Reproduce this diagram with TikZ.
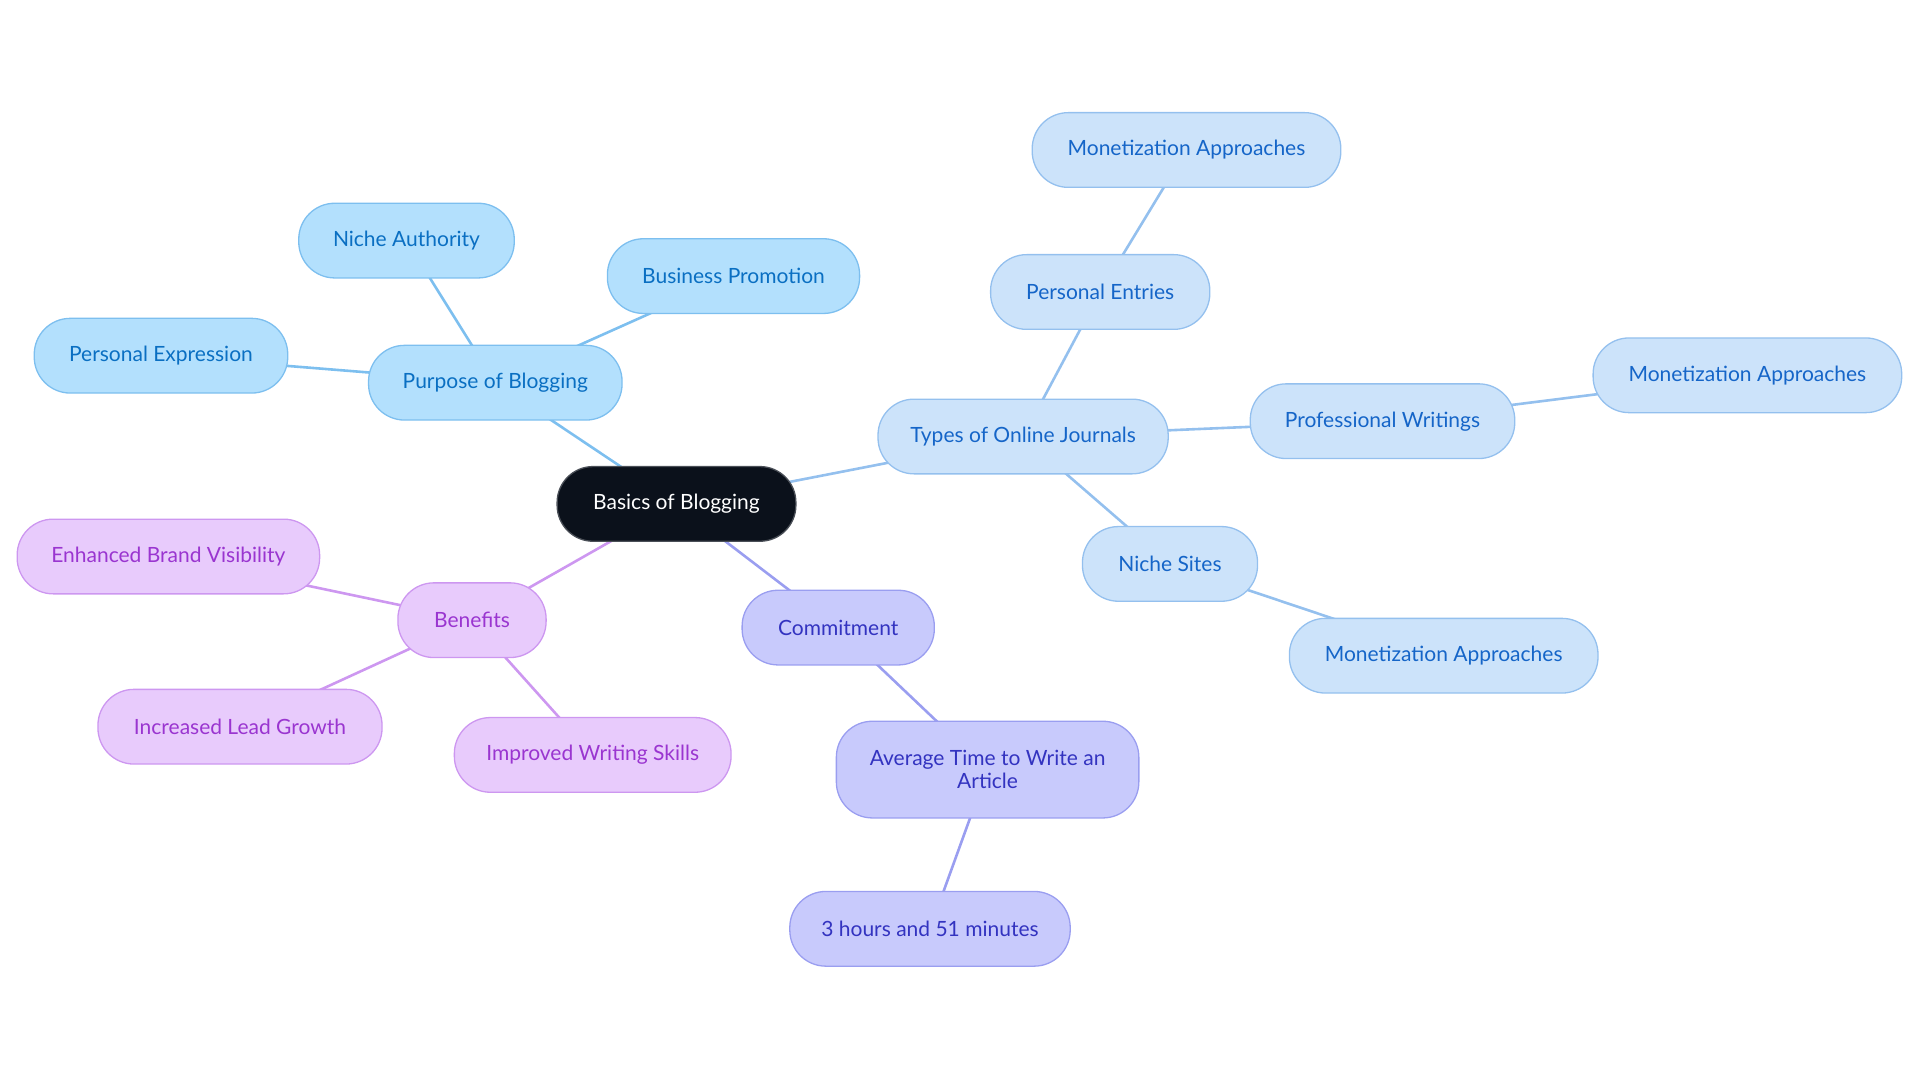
\documentclass[tikz,border=0pt]{standalone}
\usepackage{fontspec}
\setmainfont{Lato}
\usetikzlibrary{backgrounds}
\definecolor{rootfill}{HTML}{0B111B}
\definecolor{rootdraw}{HTML}{4A4F57}
\definecolor{afill}{HTML}{B3E0FD}
\definecolor{adraw}{HTML}{7DBFEF}
\definecolor{atext}{HTML}{0A6FC2}
\definecolor{bfill}{HTML}{CCE3FA}
\definecolor{bdraw}{HTML}{94C0EE}
\definecolor{btext}{HTML}{1565C8}
\definecolor{cfill}{HTML}{C8CAFC}
\definecolor{cdraw}{HTML}{9A9EF0}
\definecolor{ctext}{HTML}{3333C0}
\definecolor{dfill}{HTML}{E8CBFC}
\definecolor{ddraw}{HTML}{CD97F0}
\definecolor{dtext}{HTML}{9A35D0}
\tikzset{
  base/.style={rounded corners=36pt, minimum height=74.7pt, inner sep=0pt, line width=1.3pt, align=center, font=\fontsize{21}{22.5}\selectfont},
  rootbox/.style={base, fill=rootfill, draw=rootdraw, text=white},
  abox/.style={base, fill=afill, draw=adraw, text=atext},
  bbox/.style={base, fill=bfill, draw=bdraw, text=btext},
  cbox/.style={base, fill=cfill, draw=cdraw, text=ctext},
  dbox/.style={base, fill=dfill, draw=ddraw, text=dtext},
  aedge/.style={draw=adraw, line width=2.6pt},
  bedge/.style={draw=bdraw, line width=2.6pt},
  cedge/.style={draw=cdraw, line width=2.6pt},
  dedge/.style={draw=ddraw, line width=2.6pt},
}
\begin{document}
\begin{tikzpicture}[x=1pt, y=-1pt]
\useasboundingbox (0,0) rectangle (1920,1083);
\node[rootbox, minimum width=238.8pt] (root) at (676.5,503.9) {Basics of Blogging};
\node[abox, minimum width=253.5pt] (purpose) at (495.3,382.7) {Purpose of Blogging};
\node[abox, minimum width=215.5pt] (nauth) at (406.5,240.6) {Niche Authority};
\node[abox, minimum width=252.2pt] (bprom) at (733.5,276.1) {Business Promotion};
\node[abox, minimum width=253.5pt] (pexp) at (161,355.7) {Personal Expression};
\node[bbox, minimum width=290.2pt] (types) at (1023.1,436.5) {Types of Online Journals};
\node[bbox, minimum width=219.2pt] (pent) at (1100.2,292) {Personal Entries};
\node[bbox, minimum width=308.6pt] (mon1) at (1186.5,150) {Monetization Approaches};
\node[bbox, minimum width=264.5pt] (prof) at (1382.5,421.2) {Professional Writings};
\node[bbox, minimum width=308.6pt] (mon2) at (1747.4,375.3) {Monetization Approaches};
\node[bbox, minimum width=175.1pt] (nsites) at (1170,563.9) {Niche Sites};
\node[bbox, minimum width=308.6pt] (mon3) at (1443.7,655.7) {Monetization Approaches};
\node[dbox, minimum width=148.2pt] (ben) at (472,620.2) {Benefits};
\node[dbox, minimum width=302.5pt] (ebv) at (168.4,556.5) {Enhanced Brand Visibility};
\node[dbox, minimum width=284.1pt] (ilg) at (240,726.7) {Increased Lead Growth};
\node[dbox, minimum width=276.7pt] (iws) at (592.7,754.9) {Improved Writing Skills};
\node[cbox, minimum width=192.2pt] (commit) at (838.2,627.6) {Commitment};
\node[cbox, minimum width=302.5pt, minimum height=96.7pt] (avg) at (987.6,769.6) {Average Time to Write an\\Article};
\node[cbox, minimum width=280.4pt] (hours) at (930,928.8) {3 hours and 51 minutes};
\begin{pgfonlayer}{background}
\draw[aedge] (root.center) -- (purpose.center);
\draw[aedge] (purpose.center) -- (nauth.center);
\draw[aedge] (purpose.center) -- (bprom.center);
\draw[aedge] (purpose.center) -- (pexp.center);
\draw[bedge] (root.center) -- (types.center);
\draw[bedge] (types.center) -- (pent.center);
\draw[bedge] (pent.center) -- (mon1.center);
\draw[bedge] (types.center) -- (prof.center);
\draw[bedge] (prof.center) -- (mon2.center);
\draw[bedge] (types.center) -- (nsites.center);
\draw[bedge] (nsites.center) -- (mon3.center);
\draw[dedge] (root.center) -- (ben.center);
\draw[dedge] (ben.center) -- (ebv.center);
\draw[dedge] (ben.center) -- (ilg.center);
\draw[dedge] (ben.center) -- (iws.center);
\draw[cedge] (root.center) -- (commit.center);
\draw[cedge] (commit.center) -- (avg.center);
\draw[cedge] (avg.center) -- (hours.center);
\end{pgfonlayer}
\end{tikzpicture}
\end{document}
